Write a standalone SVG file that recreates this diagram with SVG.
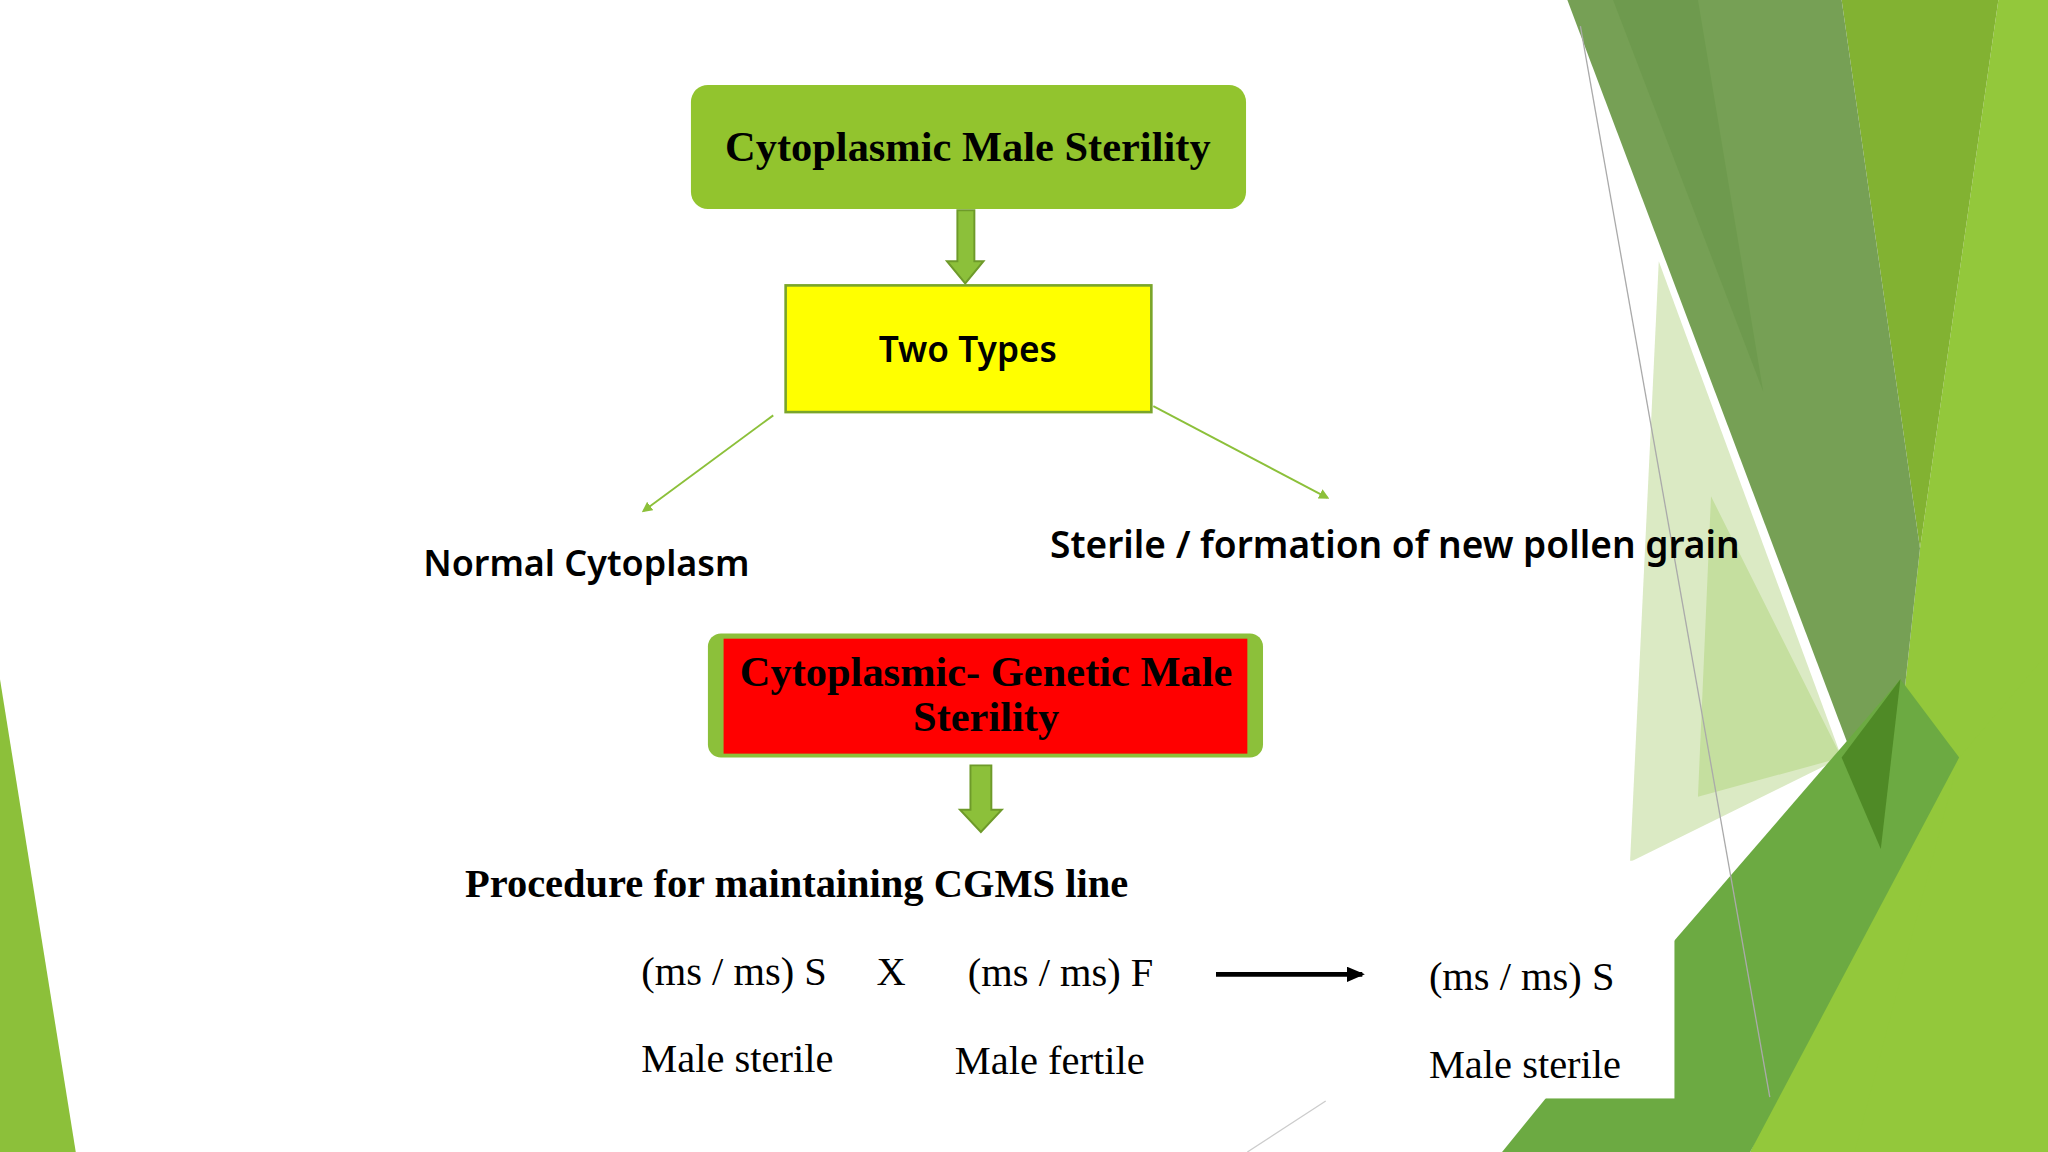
<svg xmlns="http://www.w3.org/2000/svg" width="2048" height="1152" viewBox="0 0 2048 1152">
<defs>
<style>
.serif{font-family:"Liberation Serif","Times New Roman",serif;fill:#000}
.sans{font-family:"Noto Sans","DejaVu Sans",sans-serif;fill:#000;font-weight:600}
.blk{stroke:#6e9a2a;stroke-width:1.5;fill:#8cc03a}
.thin{stroke:#8cc03a;stroke-width:1.5;fill:none}
</style>
<marker id="ah" markerWidth="8" markerHeight="8" refX="6" refY="4" orient="auto" markerUnits="userSpaceOnUse"><path d="M0,0 L8,4 L0,8 z" fill="#8cc03a"/></marker>
<marker id="bh" markerWidth="14" markerHeight="12" refX="12" refY="6" orient="auto" markerUnits="userSpaceOnUse"><path d="M0,0 L14,6 L0,12 z" fill="#000"/></marker>
</defs>
<rect width="2048" height="1152" fill="#fff"/>
<g transform="scale(1.30612)">
<g id="background">
<polygon points="1270,200 1410,580 1248,660" fill="#dbeac4"/>
<polygon points="1310,380 1410,580 1300,610" fill="#c5df9f"/>
<polygon points="1530,0 1568,0 1568,882 1340,882 1445,650 1470,420" fill="#93c83b"/>
<polygon points="1410,0 1530,0 1470,420" fill="#82b232"/>
<polygon points="1200,0 1410,0 1470,420 1445,650" fill="#76a055"/>
<polygon points="1235,0 1300,0 1350,300" fill="#6e9a4e"/>
<polygon points="1282,720 1455,520 1500,580 1340,882 1150,882" fill="#6caa42"/>
<polygon points="1500,580 1568,500 1568,882 1420,882" fill="#93c83b"/>
<polygon points="1410,580 1455,520 1440,650" fill="#4f8a26"/>
<line x1="1210" y1="20" x2="1355" y2="840" stroke="#aaa" stroke-width="1"/>
<polygon points="0,520 0,882 58,882" fill="#8cc03a"/>
<rect x="300" y="659" width="982" height="182" fill="#fff"/>
<line x1="955" y1="882" x2="1015" y2="843" stroke="#ccc" stroke-width="1"/>
</g>
<g id="connectors">
<polygon class="blk" points="733,161 746,161 746,200 753,200 739,217 725,200 733,200"/>
<polygon class="blk" points="743,586 759,586 759,620 767,620 751,637 735,620 743,620"/>
<line class="thin" x1="592" y1="318" x2="493" y2="391" marker-end="url(#ah)"/>
<line class="thin" x1="883" y1="311" x2="1016" y2="381" marker-end="url(#ah)"/>
<line x1="931" y1="746" x2="1043" y2="746" stroke="#000" stroke-width="3.5" marker-end="url(#bh)"/>
</g>
<g id="cms">
<rect x="529" y="65" width="425" height="95" rx="13" fill="#92c42e"/>
<text class="serif" x="741" y="123" text-anchor="middle" font-size="32.5" font-weight="bold">Cytoplasmic Male Sterility</text>
</g>
<g id="twotypes">
<rect x="601.5" y="218.5" width="280" height="97" fill="#ffff00" stroke="#7aa52a" stroke-width="2"/>
<text class="sans" x="741" y="277" text-anchor="middle" font-size="27">Two Types</text>
</g>
<g id="normal"><text class="sans" x="324" y="441" font-size="27.5">Normal Cytoplasm</text></g>
<g id="sterile"><text class="sans" x="804" y="427" font-size="28.4">Sterile / formation of new pollen grain</text></g>
<g id="cgms">
<rect x="542" y="485" width="425" height="95" rx="10" fill="#8cc03a"/>
<rect x="554" y="489" width="401" height="88" fill="#ff0000"/>
<text class="serif" x="755" y="525" text-anchor="middle" font-size="32.5" font-weight="bold">Cytoplasmic- Genetic Male</text>
<text class="serif" x="755" y="560" text-anchor="middle" font-size="32.5" font-weight="bold">Sterility</text>
</g>
<g id="procedure">
<text class="serif" x="356" y="687" font-size="31" font-weight="bold">Procedure for maintaining CGMS line</text>
<text class="serif" x="491" y="754" font-size="31">(ms / ms) S</text>
<text class="serif" x="671" y="754" font-size="31">X</text>
<text class="serif" x="741" y="755" font-size="31">(ms / ms) F</text>
<text class="serif" x="1094" y="758" font-size="31">(ms / ms) S</text>
<text class="serif" x="491" y="821" font-size="31">Male sterile</text>
<text class="serif" x="731" y="822" font-size="31">Male fertile</text>
<text class="serif" x="1094" y="825" font-size="31">Male sterile</text>
</g>
</g>
</svg>
